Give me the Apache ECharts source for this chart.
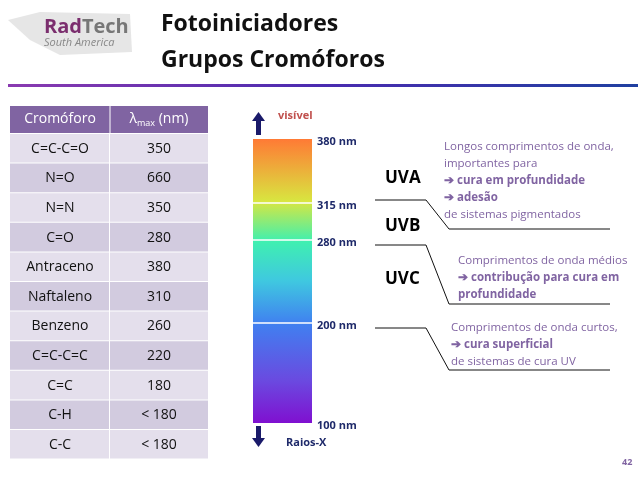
<!DOCTYPE html>
<html>
<head>
<meta charset="utf-8">
<script src="https://cdn.jsdelivr.net/npm/echarts@6/dist/echarts.min.js"></script>
<style>html,body{margin:0;padding:0;background:#fff}#main{width:638px;height:479px}</style>
</head>
<body>
<div id="main"></div>
<script>
var headers = ['Cromóforo', 'λmax (nm)'];
var groups = ['C=C-C=O', 'N=O', 'N=N', 'C=O', 'Antraceno', 'Naftaleno', 'Benzeno', 'C=C-C=C', 'C=C', 'C-H', 'C-C'];
var lambdas = ['350', '660', '350', '280', '380', '310', '260', '220', '180', '< 180', '< 180'];
var bandLabels = ['380 nm', '315 nm', '280 nm', '200 nm', '100 nm'];
var bandY = [139, 203, 240, 323, 423];
var bandNames = ['UVA', 'UVB', 'UVC'];
var notes = [
    [['Longos comprimentos de onda,', 0], ['importantes para', 0], ['➔ cura em profundidade', 1], ['➔ adesão', 1], ['de sistemas pigmentados', 0]],
    [['Comprimentos de onda médios', 0], ['➔ contribução para cura em', 1], ['profundidade', 1]],
    [['Comprimentos de onda curtos,', 0], ['➔ cura superficial', 1], ['de sistemas de cura UV', 0]]
];

var FONT = '"Open Sans", "Liberation Sans", sans-serif';
var purple = '#8064a2';
var g = [];

// logo
g.push({ type: 'polygon', shape: { points: [[8, 20], [40, 12], [130, 14], [132, 52], [60, 55], [30, 40]] }, style: { fill: '#e6e6e6' } });
g.push({ type: 'text', x: 44, y: 17, style: { rich: { a: { fill: '#7b2e6e', fontSize: 20, fontWeight: 'bold', fontFamily: FONT }, b: { fill: '#777', fontSize: 20, fontWeight: 'bold', fontFamily: FONT } }, text: '{a|Rad}{b|Tech}' } });
g.push({ type: 'text', x: 44, y: 37, style: { text: 'South America', fill: '#888', fontSize: 11, fontStyle: 'italic', fontFamily: FONT } });

// title
g.push({ type: 'text', x: 161, y: 13, style: { text: 'Fotoiniciadores', fontSize: 23, fontWeight: 'bold', fill: '#111', fontFamily: FONT } });
g.push({ type: 'text', x: 161, y: 49, style: { text: 'Grupos Cromóforos', fontSize: 23, fontWeight: 'bold', fill: '#111', fontFamily: FONT } });
g.push({ type: 'rect', shape: { x: 8, y: 84, width: 630, height: 3 }, style: { fill: new echarts.graphic.LinearGradient(0, 0, 1, 0, [{ offset: 0, color: '#8a3ab0' }, { offset: 0.5, color: '#4a2bb0' }, { offset: 1, color: '#2040a0' }]) } });

// table
var tx = 10, tw1 = 100, tw2 = 98, ty = 106, hh = 27, rh = 29.6;
g.push({ type: 'rect', shape: { x: tx, y: ty, width: tw1 + tw2, height: hh }, style: { fill: purple } });
g.push({ type: 'line', shape: { x1: tx + tw1, y1: ty, x2: tx + tw1, y2: ty + hh }, style: { stroke: '#fff', lineWidth: 1 } });
g.push({ type: 'text', x: tx + tw1 / 2, y: ty + hh / 2, style: { text: headers[0], fill: '#fff', fontSize: 14, fontFamily: FONT, align: 'center', verticalAlign: 'middle' } });
g.push({ type: 'text', x: tx + tw1 + tw2 / 2, y: ty + hh / 2, style: { rich: { n: { fill: '#fff', fontSize: 14, fontFamily: FONT }, s: { fill: '#fff', fontSize: 9, fontFamily: FONT, padding: [8, 0, 0, 0] } }, text: '{n|λ}{s|max}{n| (nm)}', align: 'center', verticalAlign: 'middle' } });
groups.forEach(function (name, i) {
    var y = ty + hh + 1 + i * rh;
    var fill = i % 2 === 0 ? '#e4dfec' : '#d2cbdf';
    g.push({ type: 'rect', shape: { x: tx, y: y, width: tw1 - 1, height: rh - 1 }, style: { fill: fill } });
    g.push({ type: 'rect', shape: { x: tx + tw1, y: y, width: tw2, height: rh - 1 }, style: { fill: fill } });
    g.push({ type: 'text', x: tx + tw1 / 2, y: y + rh / 2, style: { text: name, fill: '#111', fontSize: 14, fontFamily: FONT, align: 'center', verticalAlign: 'middle' } });
    g.push({ type: 'text', x: tx + tw1 + tw2 / 2, y: y + rh / 2, style: { text: lambdas[i], fill: '#111', fontSize: 14, fontFamily: FONT, align: 'center', verticalAlign: 'middle' } });
});

// spectrum bar
var sx = 253, sw = 59;
g.push({ type: 'rect', shape: { x: sx, y: bandY[0], width: sw, height: bandY[4] - bandY[0] }, style: { fill: new echarts.graphic.LinearGradient(0, 0, 0, 1, [
    { offset: 0, color: '#ff7a35' }, { offset: 0.22, color: '#d8e640' }, { offset: 0.36, color: '#3ff0b0' },
    { offset: 0.5, color: '#3fc8e0' }, { offset: 0.65, color: '#4080f0' }, { offset: 0.85, color: '#6a4ae0' }, { offset: 1, color: '#8010d0' }]) } });
for (var k = 1; k < 4; k++) {
    g.push({ type: 'line', shape: { x1: sx, y1: bandY[k], x2: sx + sw, y2: bandY[k] }, style: { stroke: '#fff', lineWidth: 1.5 } });
}
bandLabels.forEach(function (t, i) {
    g.push({ type: 'text', x: 317, y: bandY[i] + 3, style: { text: t, fill: '#1f2a6a', fontSize: 11, fontWeight: 'bold', fontFamily: FONT, verticalAlign: 'middle' } });
});
// arrows
g.push({ type: 'rect', shape: { x: 256, y: 118, width: 5, height: 17 }, style: { fill: '#1a1a6a' } });
g.push({ type: 'polygon', shape: { points: [[252, 121], [258.5, 112], [265, 121]] }, style: { fill: '#1a1a6a' } });
g.push({ type: 'rect', shape: { x: 256, y: 426, width: 5, height: 15 }, style: { fill: '#1a1a6a' } });
g.push({ type: 'polygon', shape: { points: [[252, 438], [258.5, 447], [265, 438]] }, style: { fill: '#1a1a6a' } });
g.push({ type: 'text', x: 278, y: 116, style: { text: 'visível', fill: '#c0504d', fontSize: 11, fontWeight: 'bold', fontFamily: FONT, verticalAlign: 'middle' } });
g.push({ type: 'text', x: 286, y: 443, style: { text: 'Raios-X', fill: '#1f2a6a', fontSize: 11, fontWeight: 'bold', fontFamily: FONT, verticalAlign: 'middle' } });

// UV names
var nameY = [178, 226, 279];
bandNames.forEach(function (t, i) {
    g.push({ type: 'text', x: 385, y: nameY[i], style: { text: t, fill: '#000', fontSize: 17, fontWeight: 'bold', fontFamily: FONT, verticalAlign: 'middle' } });
});
// connectors
var conn = [[200, 229], [245, 304], [328, 370]];
conn.forEach(function (c) {
    g.push({ type: 'polyline', shape: { points: [[375, c[0]], [426, c[0]], [449, c[1]], [610, c[1]]] }, style: { stroke: '#111', lineWidth: 1, fill: null } });
});
// notes
var noteX = [444, 458, 451], noteY = [147, 261, 328];
notes.forEach(function (block, b) {
    block.forEach(function (ln, j) {
        g.push({ type: 'text', x: noteX[b], y: noteY[b] + j * 17, style: { text: ln[0], fill: purple, fontSize: 11.5, fontWeight: ln[1] ? 'bold' : 'normal', fontFamily: FONT, verticalAlign: 'middle' } });
    });
});
g.push({ type: 'text', x: 622, y: 462, style: { text: '42', fill: purple, fontSize: 9, fontWeight: 'bold', fontFamily: FONT, verticalAlign: 'middle' } });

var chart = echarts.init(document.getElementById('main'));
chart.setOption({ backgroundColor: '#fff', animation: false, graphic: g });
</script>
</body>
</html>
